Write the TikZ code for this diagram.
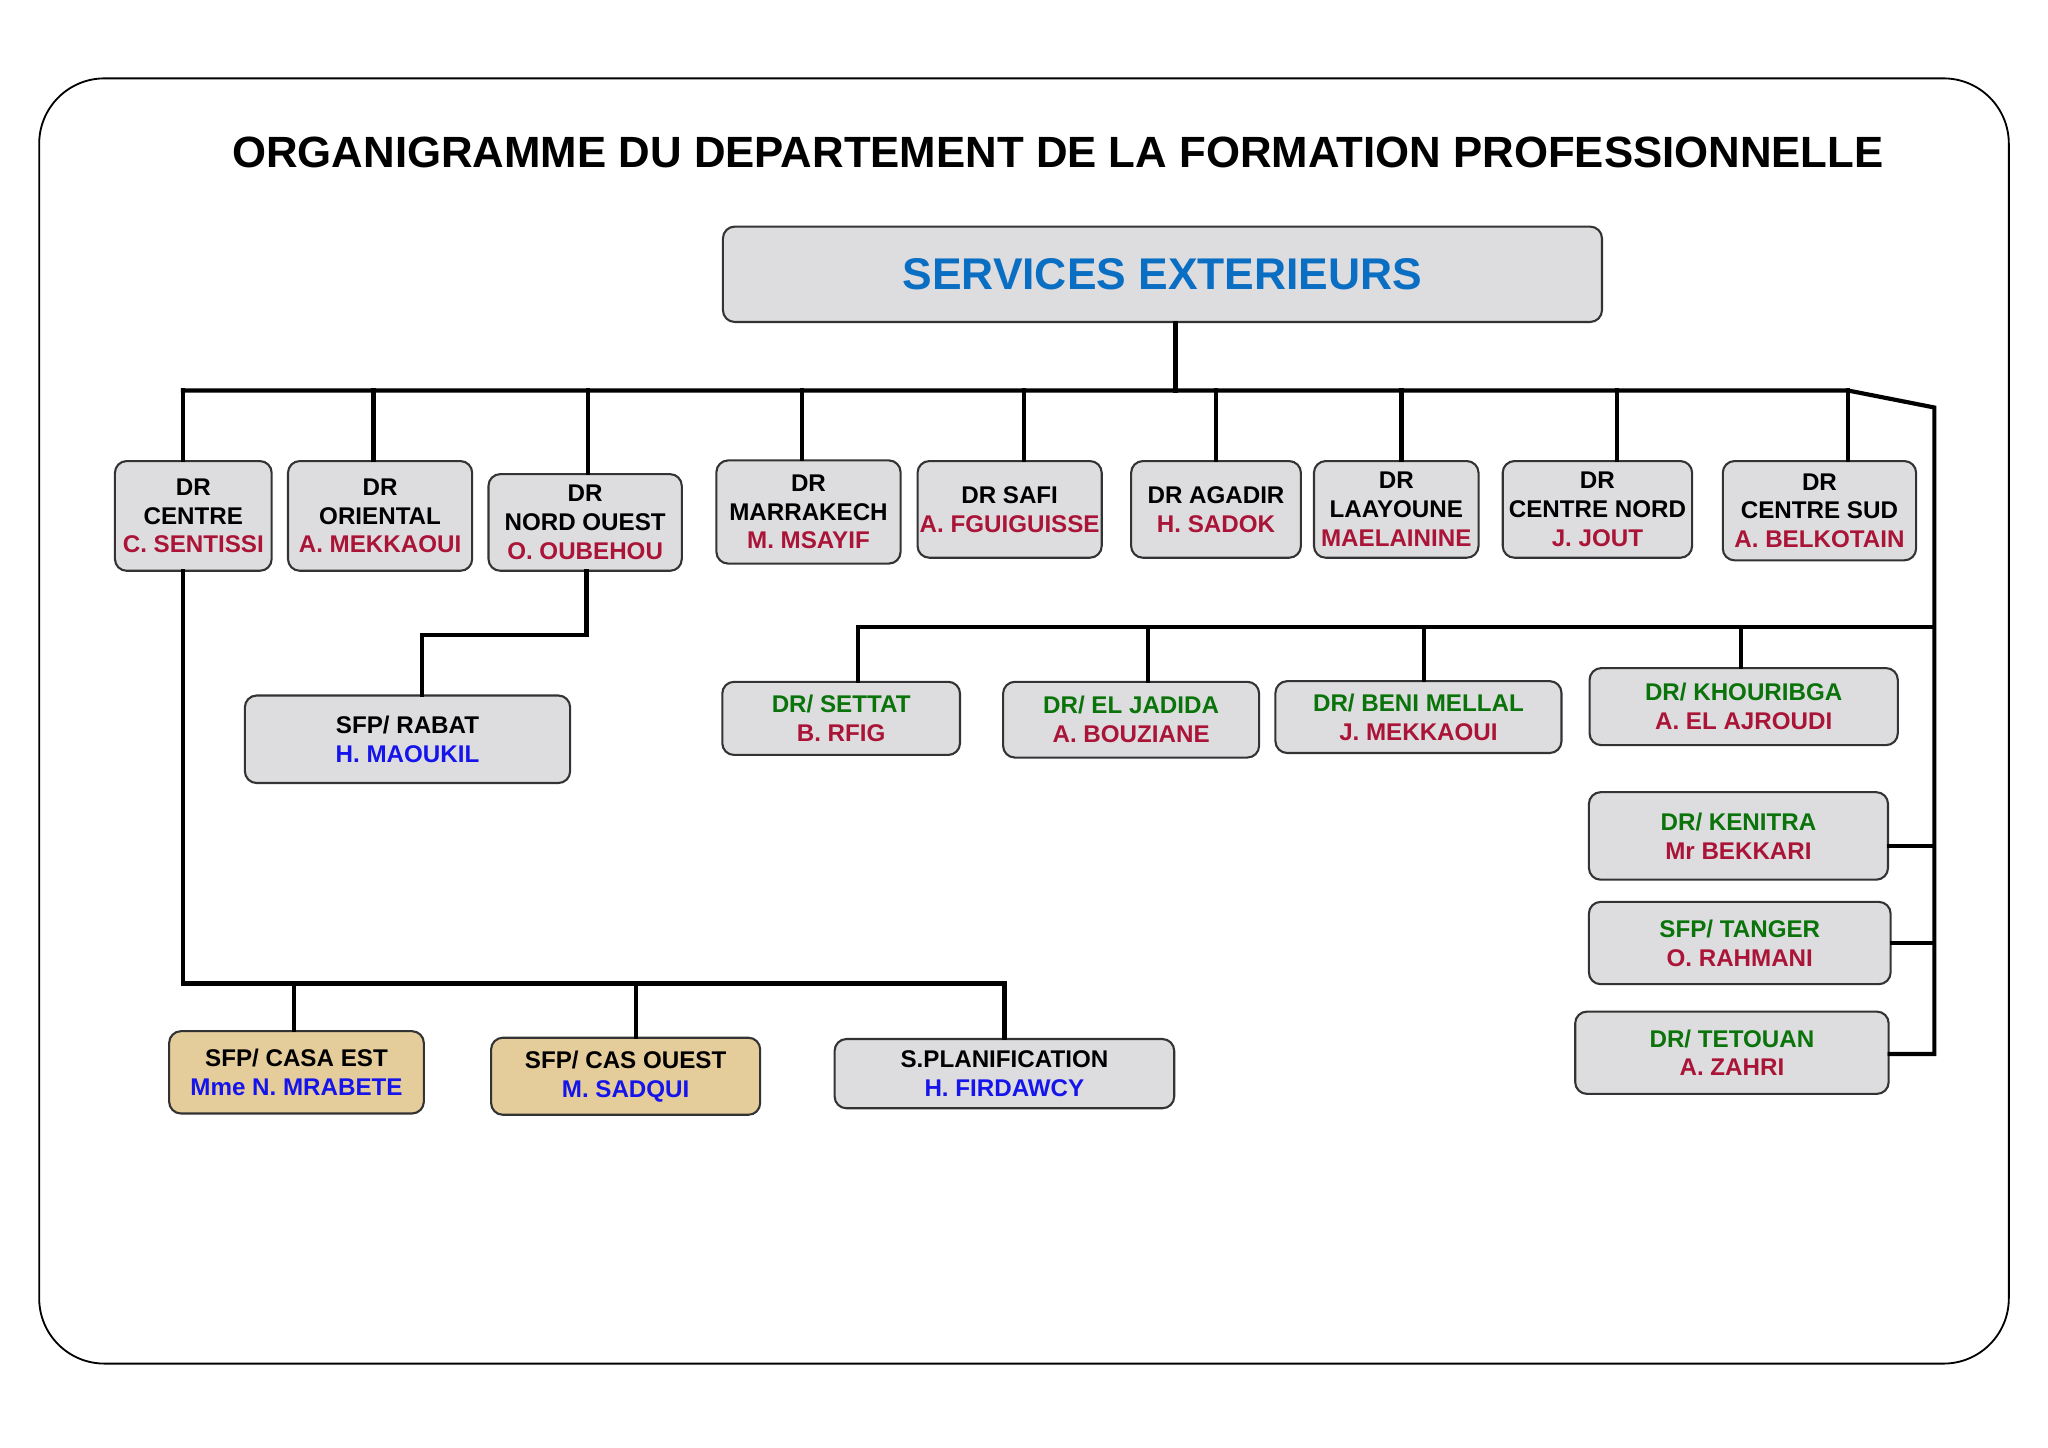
\documentclass[tikz,border=0pt]{standalone}
\usepackage{fontspec}
\setmainfont{Liberation Sans}
\definecolor{boxgray}{RGB}{221,221,224}
\definecolor{tanfill}{RGB}{228,205,155}
\definecolor{namered}{RGB}{170,20,55}
\definecolor{dgreen}{RGB}{10,115,10}
\definecolor{nblue}{RGB}{20,20,235}
\definecolor{svcblue}{RGB}{10,110,195}
\tikzset{
	orgbox/.style={draw=black!80,line width=1.6pt,rounded corners=9pt,fill=boxgray,align=center,
		inner sep=0pt,font=\fontsize{18.5}{22}\selectfont\bfseries},
	tanbox/.style={orgbox,fill=tanfill},
	link/.style={line width=3.2pt,line cap=rect}}
\begin{document}
\begin{tikzpicture}[x=1pt,y=-1pt]
	\useasboundingbox (0,0) rectangle (1568,1108);
	% frame
	\draw[line width=1.4pt,rounded corners=50pt] (30,60) rectangle (1538,1044);
	\node (title) at (810,117) {\fontsize{33.5}{38}\selectfont\bfseries ORGANIGRAMME DU DEPARTEMENT DE LA FORMATION PROFESSIONNELLE};
	\node[orgbox,minimum width=673pt,minimum height=73pt] (svc) at (890,210)
		{\fontsize{34}{38}\selectfont\color{svcblue}SERVICES EXTERIEURS};

	% first row
	\node[orgbox,minimum width=120pt,minimum height=84pt] (centre) at (148,395) {DR\\CENTRE\\\color{namered}C. SENTISSI};
	\node[orgbox,minimum width=141pt,minimum height=84pt] (oriental) at (291,395) {DR\\ORIENTAL\\\color{namered}A. MEKKAOUI};
	\node[orgbox,minimum width=148pt,minimum height=74pt] (nordouest) at (448,400) {DR\\NORD OUEST\\\color{namered}O. OUBEHOU};
	\node[orgbox,minimum width=141pt,minimum height=79pt] (marrakech) at (619,392) {DR\\MARRAKECH\\\color{namered}M. MSAYIF};
	\node[orgbox,minimum width=141pt,minimum height=74pt] (safi) at (773,390) {DR SAFI\\\color{namered}A. FGUIGUISSE};
	\node[orgbox,minimum width=130pt,minimum height=74pt] (agadir) at (931,390) {DR AGADIR\\\color{namered}H. SADOK};
	\node[orgbox,minimum width=126pt,minimum height=74pt] (laayoune) at (1069,390) {DR\\LAAYOUNE\\\color{namered}MAELAININE};
	\node[orgbox,minimum width=145pt,minimum height=74pt] (cnord) at (1223,390) {DR\\CENTRE NORD\\\color{namered}J. JOUT};
	\node[orgbox,minimum width=148pt,minimum height=76pt] (csud) at (1393,391) {DR\\CENTRE SUD\\\color{namered}A. BELKOTAIN};

	% second row
	\node[orgbox,minimum width=182pt,minimum height=56pt] (settat) at (644,550) {\color{dgreen}DR/ SETTAT\\\color{namered}B. RFIG};
	\node[orgbox,minimum width=196pt,minimum height=58pt] (jadida) at (866,551) {\color{dgreen}DR/ EL JADIDA\\\color{namered}A. BOUZIANE};
	\node[orgbox,minimum width=219pt,minimum height=55pt] (benimellal) at (1086,549) {\color{dgreen}DR/ BENI MELLAL\\\color{namered}J. MEKKAOUI};
	\node[orgbox,minimum width=236pt,minimum height=59pt] (khouribga) at (1335,541) {\color{dgreen}DR/ KHOURIBGA\\\color{namered}A. EL AJROUDI};
	\node[orgbox,minimum width=229pt,minimum height=67pt] (kenitra) at (1331,640) {\color{dgreen}DR/ KENITRA\\\color{namered}Mr BEKKARI};
	\node[orgbox,minimum width=231pt,minimum height=63pt] (tanger) at (1332,722) {\color{dgreen}SFP/ TANGER\\\color{namered}O. RAHMANI};
	\node[orgbox,minimum width=240pt,minimum height=63pt] (tetouan) at (1326,806) {\color{dgreen}DR/ TETOUAN\\\color{namered}A. ZAHRI};
	\node[orgbox,minimum width=249pt,minimum height=67pt] (rabat) at (312,566) {SFP/ RABAT\\\color{nblue}H. MAOUKIL};

	% bottom row
	\node[tanbox,minimum width=195pt,minimum height=63pt] (casaest) at (227,821) {SFP/ CASA EST\\\color{nblue}Mme N. MRABETE};
	\node[tanbox,minimum width=206pt,minimum height=59pt] (casouest) at (479,824) {SFP/ CAS OUEST\\\color{nblue}M. SADQUI};
	\node[orgbox,minimum width=260pt,minimum height=53pt] (planif) at (769,822) {S.PLANIFICATION\\\color{nblue}H. FIRDAWCY};

	% main bus
	\coordinate (busL) at (140,299);
	\coordinate (busR) at (1415,299);
	\coordinate (busE) at (1481,312);
	\coordinate (busB) at (1481,807);
	\draw[link] (svc.south -| 900,0) -- (900,299);
	\draw[link] (busL) -- (busR) -- (busE) -- (busB) -- (tetouan.east |- busB);
	\foreach \n/\x in {centre/140,oriental/286,nordouest/450,marrakech/614,safi/784,agadir/931,laayoune/1073,cnord/1238,csud/1415}
		\draw[link] (\x,299) -- (\n.north -| \x,0);

	% second bus
	\coordinate (midL) at (657,480);
	\draw[link] (midL) -- (busE |- midL);
	\foreach \n/\x in {settat/657,jadida/879,benimellal/1090,khouribga/1333}
		\draw[link] (\x,480) -- (\n.north -| \x,0);
	\draw[link] (kenitra.east |- 0,648) -- (1481,648);
	\draw[link] (tanger.east) -- (busE |- tanger.east);

	% rabat
	\draw[link] (449,437) -- (449,486) -- (323,486) -- (rabat.north -| 323,0);

	% centre branch
	\draw[link] (140,437) -- (140,753) -- (769,753) -- (planif.north -| 769,0);
	\draw[link] (225,753) -- (casaest.north -| 225,0);
	\draw[link] (487,753) -- (casouest.north -| 487,0);
\end{tikzpicture}
\end{document}
